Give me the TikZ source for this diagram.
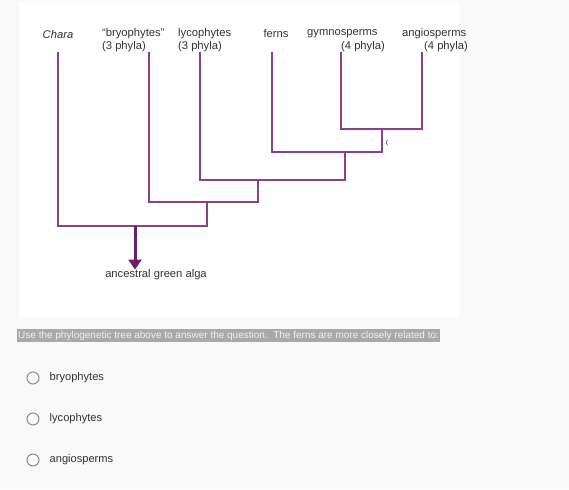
\documentclass[tikz,border=0pt]{standalone}
\usepackage{fontspec}
\setmainfont{Liberation Sans}
\usetikzlibrary{positioning,arrows.meta}
\definecolor{clade}{HTML}{8C3F8C}
\definecolor{stemcol}{HTML}{6C1F6C}
\definecolor{pagebg}{HTML}{F9F9F9}
\definecolor{hilite}{HTML}{A9A9A9}
\definecolor{ink}{HTML}{333333}

\begin{document}
\begin{tikzpicture}[
  x=1pt, y=-1pt,
  taxon/.style={
    inner sep=0pt, anchor=west,
    font=\fontsize{11.2}{13}\selectfont, text=ink, align=left
  },
  branch/.style={draw=clade, line width=2pt, line join=miter},
  ancestor/.style={draw=stemcol, line width=3pt,
    -{Triangle[width=13pt,length=10pt]}},
  radio/.style={circle, draw=black!45, line width=1pt,
    minimum size=12pt, inner sep=0pt},
  option/.style={font=\fontsize{11.1}{12}\selectfont, text=ink, inner sep=0pt},
  question/.style={fill=hilite, text=white!95!black, inner xsep=1pt, inner ysep=2pt,
    font=\fontsize{10}{12}\selectfont, anchor=west}
]
% --- page and panel ---
\fill[pagebg] (0,0) rectangle (569,489);
\fill[white] (19,2) rectangle (459,317);

% --- tips of the tree ---
\foreach \tip/\x in {chara/58,bryo/149,lyco/200,fern/272,gymno/341,angio/422} {
  \coordinate (\tip) at (\x,52);
}

% --- branching points ---
\coordinate (ga)    at (382,129);
\coordinate (fga)   at (345,152);
\coordinate (lfga)  at (258,180);
\coordinate (blfga) at (207,202);
\coordinate (root)  at (135,226);

% --- labels ---
\node[taxon, anchor=center, font=\fontsize{11.2}{13}\selectfont\itshape] (lchara) at (58,34) {Chara};
\node[taxon] (lbryo) at (102,40.5) {“bryophytes”\\(3 phyla)};
\node[taxon] (llyco) at (178,40.5) {lycophytes\\(3 phyla)};
\node[taxon, anchor=center] (lfern) at (276,34) {ferns};
\node[taxon] (lgymno) at (307,34) {gymnosperms};
\node[taxon] (lgymnon) at (341,47) {(4 phyla)};
\node[taxon] (langio) at (402,34) {angiosperms};
\node[taxon] (langion) at (424,47) {(4 phyla)};
\node[font=\fontsize{6}{6}\selectfont, inner sep=0pt] (mark) at (387,143) {(};

% --- branches ---
\draw[branch] (gymno) |- (ga) -| (angio);
\draw[branch] (fern) |- (ga |- fga) -- (ga);
\draw[branch] (lyco) |- (fga |- lfga) -- (fga);
\draw[branch] (bryo) |- (lfga |- blfga) -- (lfga);
\draw[branch] (chara) |- (blfga |- root) -- (blfga);

% --- ancestor ---
\node[taxon, anchor=center] (alga) at (156,275) {ancestral green alga};
\draw[ancestor] (root) -- (root |- alga.north);

% --- question ---
\node[question] (q) at (17,335.5)
  {Use the phylogenetic tree above to answer the question.\ \ The ferns are more closely related to:};

% --- answers ---
\foreach \ans [count=\i] in {bryophytes,lycophytes,angiosperms} {
  \node[radio] (r\i) at (33,337+41*\i) {};
  \node[option, right=10pt of r\i] (a\i) {\ans};
}
\end{tikzpicture}
\end{document}
